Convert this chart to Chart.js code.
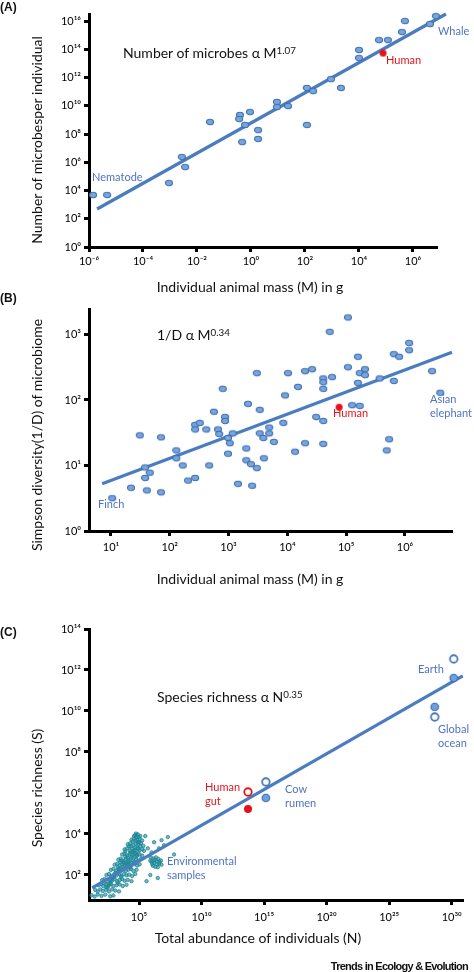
<!DOCTYPE html>
<html><head><meta charset="utf-8">
<script src="https://cdn.jsdelivr.net/npm/chart.js@4"></script>
<style>
html,body{margin:0;padding:0;background:#fff;}
#wrap{position:relative;width:474px;height:972px;overflow:hidden;font-family:Lato,"Open Sans",sans-serif;color:#111;}
canvas{position:absolute;left:0;}
.t{position:absolute;white-space:nowrap;line-height:1;}
.c{transform:translate(-50%,-50%);}
.l{transform:translate(0,-50%);}
.rr{transform:translate(-100%,-50%);}
.r{transform:translate(-50%,-50%) rotate(-90deg);}
.ttl{font-size:14px;}
.ann{font-size:14px;}
.lab{font-size:11px;}
.blue{color:#4f73c6;}
.red{color:#e3141c;}
.pl{font:bold 12px "Liberation Sans",Arial,sans-serif;}
sup{font-size:70%;vertical-align:0;position:relative;top:-0.45em;}
</style></head>
<body><div id="wrap">
<canvas id="cA" width="474" height="300" style="top:0"></canvas>
<canvas id="cB" width="474" height="300" style="top:300px"></canvas>
<canvas id="cC" width="474" height="372" style="top:600px"></canvas>

<div class="t l pl" style="left:0;top:7px">(A)</div>
<div class="t l pl" style="left:0;top:298px">(B)</div>
<div class="t l pl" style="left:0;top:632px">(C)</div>

<div class="t r ttl" style="left:37px;top:140px">Number of microbesper individual</div>
<div class="t c ttl" style="left:250px;top:287px">Individual animal mass (M) in g</div>
<div class="t l ann" style="left:123px;top:53px">Number of microbes α M<sup>1.07</sup></div>
<div class="t l lab blue" style="left:438px;top:30px">Whale</div>
<div class="t l lab red" style="left:386px;top:59px">Human</div>
<div class="t l lab blue" style="left:92px;top:176px">Nematode</div>

<div class="t r ttl" style="left:37px;top:435px">Simpson diversity(1/D) of microbiome</div>
<div class="t c ttl" style="left:250px;top:579px">Individual animal mass (M) in g</div>
<div class="t l ann" style="left:157px;top:335px">1/D α M<sup>0.34</sup></div>
<div class="t l lab red" style="left:333px;top:412px">Human</div>
<div class="t l lab blue" style="left:430px;top:398px">Asian</div>
<div class="t l lab blue" style="left:430px;top:412px">elephant</div>
<div class="t l lab blue" style="left:98px;top:503px">Finch</div>

<div class="t r ttl" style="left:37px;top:788px">Species richness (S)</div>
<div class="t c ttl" style="left:258px;top:938px">Total abundance of individuals (N)</div>
<div class="t l ann" style="left:157px;top:697px">Species richness α N<sup>0.35</sup></div>
<div class="t l lab blue" style="left:418px;top:668px">Earth</div>
<div class="t l lab blue" style="left:438px;top:728px">Global</div>
<div class="t l lab blue" style="left:438px;top:742px">ocean</div>
<div class="t l lab red" style="left:205px;top:786px">Human</div>
<div class="t l lab red" style="left:205px;top:800px">gut</div>
<div class="t l lab blue" style="left:285px;top:788px">Cow</div>
<div class="t l lab blue" style="left:285px;top:802px">rumen</div>
<div class="t l lab blue" style="left:167px;top:860px">Environmental</div>
<div class="t l lab blue" style="left:167px;top:874px">samples</div>
<div class="t rr" style="left:468px;top:966px;font:bold 11px 'Liberation Sans',Arial,sans-serif;letter-spacing:-0.75px;">Trends in Ecology &amp; Evolution</div>
</div>
<script>
// ---------- DATA (log10 values) ----------
// Panel A: microbes per individual vs animal mass
const aMassLog = [6.85, 5.70, 5.59, 6.63, 4.74, 5.07, 4.00, 4.00, 2.96, 3.33, 2.07, 2.30, 0.96, 0.96, 1.37, -0.04, -0.41, -0.44, -0.22, -1.52, 2.07, 0.26, -0.33, 0.26, -2.56, -2.44, -3.04, -5.85, -5.33];
const aMicrobesLog = [16.35, 16.0, 15.22, 15.79, 14.65, 14.65, 13.95, 13.38, 11.89, 11.26, 11.26, 11.04, 10.27, 9.91, 9.98, 9.56, 9.35, 9.06, 8.64, 8.85, 8.64, 8.28, 7.43, 7.65, 6.37, 5.66, 4.53, 3.68, 3.68];
const aHumanMassLog = [4.89];
const aHumanMicrobesLog = [13.73];
const aFitMassLog = [-5.70, 7.22];
const aFitMicrobesLog = [2.69, 16.5];
const aXTickExps = [-6, -4, -2, 0, 2, 4, 6];
const aYTickExps = [0, 2, 4, 6, 8, 10, 12, 14, 16];

// Panel B: Simpson diversity vs animal mass
const bMassLog = [5.03,4.72,6.07,6.07,5.81,5.90,5.20,5.03,5.32,5.23,5.32,6.46,4.42,4.30,4.01,3.48,4.61,4.76,4.61,5.20,5.57,5.81,4.18,4.61,2.90,3.96,6.60,3.33,3.53,5.10,5.23,2.75,2.94,2.94,4.49,4.61,3.93,2.43,2.51,2.43,2.62,2.82,3.69,2.84,3.07,3.53,3.69,1.49,1.85,2.99,3.59,3.02,3.77,4.30,4.61,5.73,3.30,2.11,4.13,5.69,2.11,2.99,3.30,3.60,3.38,3.48,2.22,2.67,1.58,1.58,1.66,2.31,2.43,1.34,1.61,1.85,1.02,3.16,3.40];
const bDiversityLog = [3.26,3.04,2.87,2.76,2.70,2.66,2.66,2.50,2.47,2.41,2.38,2.44,2.47,2.44,2.41,2.41,2.33,2.35,2.27,2.26,2.33,2.29,2.20,2.17,2.17,2.07,2.11,1.94,1.85,1.92,1.91,1.82,1.74,1.68,1.74,1.68,1.65,1.62,1.65,1.55,1.55,1.55,1.58,1.48,1.49,1.49,1.49,1.46,1.43,1.42,1.42,1.34,1.36,1.34,1.33,1.40,1.26,1.23,1.21,1.23,1.11,1.18,1.08,1.11,1.02,0.96,1.00,1.00,0.97,0.81,0.89,0.77,0.81,0.66,0.62,0.59,0.50,0.72,0.69];
const bHumanMassLog = [4.88];
const bHumanDiversityLog = [1.89];
const bFitMassLog = [0.85, 6.80];
const bFitDiversityLog = [0.72, 2.73];
const bXTickExps = [1, 2, 3, 4, 5, 6];
const bYTickExps = [0, 1, 2, 3];

// Panel C: species richness vs total abundance
const cFilledAbundLog = [30.16, 28.64, 15.14];   // Earth, Global ocean, Cow rumen
const cFilledRichLog  = [11.61, 10.20, 5.76];
const cOpenAbundLog = [30.16, 28.64, 15.14];
const cOpenRichLog  = [12.54, 9.71, 6.54];
const cGutFilledLog = [[13.71, 5.22]];
const cGutOpenLog   = [[13.71, 6.05]];
const cFitAbundLog = [1.25, 30.88];
const cFitRichLog  = [1.37, 11.71];
const cXTickExps = [5, 10, 15, 20, 25, 30];
const cYTickExps = [2, 4, 6, 8, 10, 12, 14];
const envSamplesLog = [
 [4.7,3.95],[4.9,3.98],[5.1,3.9],[4.8,3.85],[4.75,4.02],
 [4.4,3.72],[4.6,3.78],[4.85,3.7],[5.05,3.75],[5.25,3.68],
 [4.1,3.5],[4.3,3.55],[4.55,3.45],[4.75,3.52],[4.95,3.48],[5.15,3.55],[5.35,3.42],
 [3.85,3.25],[4.05,3.3],[4.25,3.2],[4.45,3.28],[4.65,3.22],[4.85,3.3],[5.05,3.2],[5.25,3.26],[5.4,3.18],
 [3.65,3.0],[3.85,3.05],[4.05,2.95],[4.25,3.02],[4.45,2.98],[4.65,3.06],[4.85,2.96],[5.05,3.0],[5.25,2.94],
 [3.35,2.75],[3.55,2.8],[3.75,2.7],[3.95,2.78],[4.15,2.72],[4.35,2.8],[4.55,2.7],[4.75,2.76],[4.95,2.7],[5.15,2.78],
 [3.05,2.5],[3.25,2.55],[3.45,2.45],[3.65,2.52],[3.85,2.48],[4.05,2.56],[4.25,2.44],[4.45,2.5],[4.65,2.54],[4.85,2.46],[5.05,2.52],
 [2.75,2.25],[2.95,2.3],[3.15,2.2],[3.35,2.28],[3.55,2.22],[3.75,2.3],[3.95,2.2],[4.15,2.26],[4.35,2.3],[4.55,2.2],[4.8,2.25],
 [2.4,2.0],[2.6,2.05],[2.8,1.95],[3.0,2.02],[3.2,1.98],[3.4,2.06],[3.6,1.96],[3.8,2.04],[4.0,1.98],[4.2,2.02],[4.45,1.95],[4.7,2.05],
 [2.05,1.75],[2.25,1.8],[2.45,1.7],[2.65,1.78],[2.85,1.72],[3.05,1.8],[3.25,1.7],[3.45,1.76],[3.65,1.8],[3.85,1.72],[4.1,1.76],[4.4,1.7],
 [1.75,1.5],[1.95,1.55],[2.15,1.45],[2.35,1.52],[2.55,1.48],[2.75,1.55],[2.95,1.46],[3.2,1.5],[3.45,1.54],[3.7,1.46],[4.0,1.52],
 [1.5,1.27],[1.7,1.2],[1.9,1.3],[2.1,1.22],[2.35,1.28],[2.6,1.2],[2.85,1.3],[3.1,1.24],[3.4,1.2],
 [1.2,1.02],[1.45,0.95],[1.7,1.05],[2.0,0.98],[2.3,1.04],[2.7,0.96],[2.95,1.0],
 [4.5,3.62],[4.7,3.35],[4.9,3.12],[4.4,2.88],[4.6,2.62],[4.3,2.38],[4.5,3.1],[4.8,2.9],[4.2,2.65],[4.0,2.4],[3.8,2.6],[4.6,3.9],[4.95,3.85],[5.0,3.6],[4.2,3.4],[3.9,3.15],[3.5,2.62],[3.3,2.38],[3.1,2.1],[2.9,1.88],[2.7,1.62],[2.5,1.38],
 [4.35,3.4],[4.55,3.18],[4.75,3.05],[4.95,3.3],[4.65,2.88],[4.35,2.6],[4.1,2.85],[3.9,2.9],[3.7,2.4],[3.6,2.7],[4.9,3.6],[4.7,3.68],[5.1,3.4],[4.3,3.1],[4.15,2.5],[3.95,2.6],[3.45,2.3],[3.25,2.1],[3.0,1.9],[2.8,1.78],[2.6,1.55],[2.4,1.4],[2.2,1.6],[3.55,1.9],[3.3,1.62],
 [5.95,2.85],[6.15,2.8],[6.35,2.86],[6.55,2.78],[6.75,2.7],[6.0,2.65],[6.2,2.6],[6.4,2.68],[6.6,2.55],[6.8,2.5],[6.1,2.45],[6.3,2.4],[6.5,2.38],[6.05,2.55],[6.45,2.52],[5.9,2.7],[6.25,2.72],[6.65,2.65],
 [6.2,3.6],[6.6,3.3],[7.0,3.45],[7.3,3.85],[6.0,3.1],[5.9,2.0],[6.5,1.85],[5.7,3.3],[7.8,3.0],[5.6,1.7],[5.5,3.9],[6.8,3.7]
];

// ---------- helpers ----------
const SUP = {'-':'⁻','0':'⁰','1':'¹','2':'²','3':'³','4':'⁴','5':'⁵','6':'⁶','7':'⁷','8':'⁸','9':'⁹'};
const sup = n => String(n).split('').map(c => SUP[c]).join('');
const pow = e => Math.pow(10, e);
const pts = (xs, ys) => xs.map((x, i) => ({x: pow(x), y: pow(ys[i])}));
const pairs = arr => arr.map(p => ({x: pow(p[0]), y: pow(p[1])}));

function dot(w, h, fill, stroke, lw) {
  const c = document.createElement('canvas');
  c.width = Math.ceil(w + 2 * lw + 2); c.height = Math.ceil(h + 2 * lw + 2);
  const g = c.getContext('2d');
  g.beginPath(); g.ellipse(c.width / 2, c.height / 2, w / 2, h / 2, 0, 0, Math.PI * 2);
  if (fill) { g.fillStyle = fill; g.fill(); }
  if (stroke) { g.lineWidth = lw; g.strokeStyle = stroke; g.stroke(); }
  return c;
}
const blueEllipse = dot(7, 5.4, '#78a5dd', '#3e6db0', 1.1);
const redDot = dot(7, 7, '#e8101a', null, 0);
const blueCircle = dot(7.5, 7.5, '#6f9fdc', '#3e6db0', 1.2);
const blueRing = dot(7.5, 7.5, '#ffffff', '#4a74b8', 1.8);
const redRing = dot(7.5, 7.5, '#ffffff', '#e3141c', 1.8);
const redCircle = dot(8, 8, '#e8101a', null, 0);

const LINE = '#4a7cbf';
const TICKFONT = {family: 'Lato, "Noto Sans", sans-serif', size: 11};

function axis(range, tickExps, fit, pad) {
  return {
    type: 'logarithmic', min: pow(range[0]), max: pow(range[1]),
    afterBuildTicks: s => { s.ticks = tickExps.map(e => ({value: pow(e)})); },
    afterFit: fit,
    ticks: {autoSkip: false, maxRotation: 0, minRotation: 0, padding: pad, color: '#000', font: TICKFONT,
      callback: v => '10' + sup(Math.round(Math.log10(v)))},
    grid: {display: true, drawOnChartArea: false, drawTicks: true, tickLength: 5, tickWidth: 3, tickColor: '#000', color: '#000'},
    border: {display: true, color: '#000', width: 3}
  };
}

function makeChart(id, H, area, xr, yr, xT, yT, xPad, datasets) {
  return new Chart(document.getElementById(id), {
    type: 'scatter',
    data: {datasets},
    options: {
      responsive: false, animation: false, devicePixelRatio: 1,
      layout: {padding: {left: 0, top: area.top, right: 474 - area.right, bottom: 0}},
      plugins: {legend: {display: false}, tooltip: {enabled: false}},
      events: [],
      scales: {
        x: axis(xr, xT, s => { s.height = H - area.bottom; }, xPad),
        y: axis(yr, yT, s => { s.width = area.left; }, 3)
      }
    }
  });
}
const ptsDS = (data, style, order) => ({data, pointStyle: style, pointRadius: 4, order, clip: false});
const lineDS = (data, order) => ({data, showLine: true, borderColor: LINE, borderWidth: 3.2, pointRadius: 0, order, clip: false});

// Panel A
makeChart('cA', 300, {left: 89, right: 437, top: 14, bottom: 247}, [-6, 6.89], [0, 16.5], aXTickExps, aYTickExps, 3, [
  ptsDS(pts(aMassLog, aMicrobesLog), blueEllipse, 1),
  ptsDS(pts(aHumanMassLog, aHumanMicrobesLog), redDot, 0),
  lineDS(pts(aFitMassLog, aFitMicrobesLog), 2)
]);

// Panel B
makeChart('cB', 300, {left: 89, right: 452, top: 2, bottom: 231}, [0.626, 6.8], [0, 3.38], bXTickExps, bYTickExps, 4.5, [
  ptsDS(pts(bMassLog, bDiversityLog), blueEllipse, 1),
  ptsDS(pts(bHumanMassLog, bHumanDiversityLog), redDot, 0),
  lineDS(pts(bFitMassLog, bFitDiversityLog), 2)
]);

// Panel C
makeChart('cC', 372, {left: 89, right: 463, top: 29, bottom: 300}, [1.0, 30.9], [0.78, 14], cXTickExps, cYTickExps, 5.5, [
  {data: pairs(envSamplesLog), pointStyle: 'circle', pointRadius: 1.7, borderWidth: 0.8, borderColor: '#1a8494', backgroundColor: 'rgba(30,140,155,0.6)', order: 4, clip: false},
  lineDS(pts(cFitAbundLog, cFitRichLog), 3),
  ptsDS(pts(cFilledAbundLog, cFilledRichLog), blueCircle, 1),
  ptsDS(pts(cOpenAbundLog, cOpenRichLog), blueRing, 1),
  ptsDS(pairs(cGutFilledLog), redCircle, 0),
  ptsDS(pairs(cGutOpenLog), redRing, 0)
]);
</script>
</body></html>
